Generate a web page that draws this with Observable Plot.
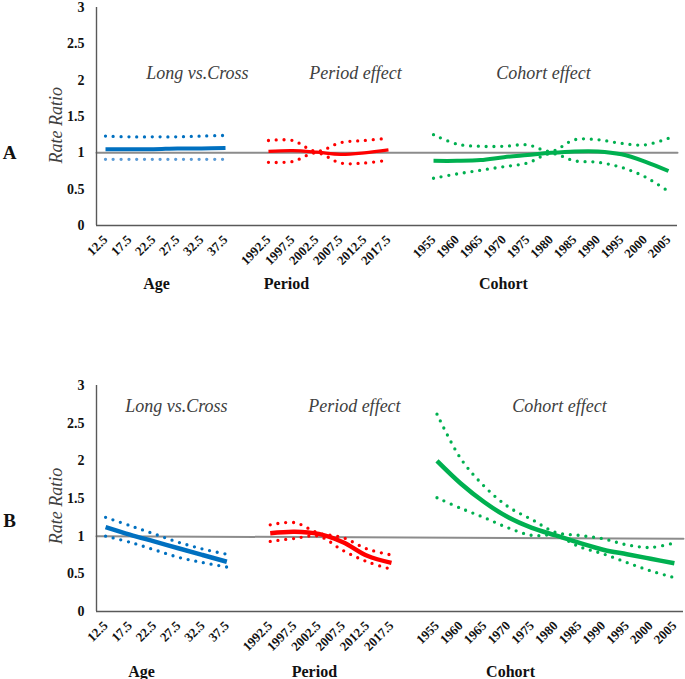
<!DOCTYPE html>
<html>
<head>
<meta charset="utf-8">
<script src="https://cdn.jsdelivr.net/npm/d3@7"></script>
<script src="https://cdn.jsdelivr.net/npm/@observablehq/plot@0.6"></script>
<style>
  body { margin: 0; background: #fff; }
  #chart { width: 685px; }
  #chart svg { display: block; }
</style>
</head>
<body>
<div id="chart"></div>
<script>
// ---- categories / tick labels ----
const ageLabels = ["12.5", "17.5", "22.5", "27.5", "32.5", "37.5"];
const periodLabels = ["1992.5", "1997.5", "2002.5", "2007.5", "2012.5", "2017.5"];
const cohortLabels = ["1955", "1960", "1965", "1970", "1975", "1980", "1985", "1990", "1995", "2000", "2005"];
const yTicks = [0, 0.5, 1, 1.5, 2, 2.5, 3];
const groupTitles = ["Long vs.Cross", "Period effect", "Cohort effect"];
const axisTitles = ["Age", "Period", "Cohort"];

// ---- Panel A values (rate ratio) ----
const ageMainA = [1.05, 1.05, 1.05, 1.06, 1.06, 1.065];
const ageUpperA = [1.23, 1.22, 1.22, 1.22, 1.23, 1.24];
const ageLowerA = [0.91, 0.91, 0.91, 0.91, 0.91, 0.91];
const periodMainA = [1.02, 1.03, 1.01, 0.98, 1.00, 1.04];
const periodUpperA = [1.17, 1.17, 1.02, 1.14, 1.17, 1.20];
const periodLowerA = [0.87, 0.88, 1.00, 0.86, 0.86, 0.90];
const cohortMainA = [0.89, 0.89, 0.90, 0.94, 0.97, 1.00, 1.02, 1.02, 0.98, 0.88, 0.75];
const cohortUpperA = [1.25, 1.12, 1.09, 1.09, 1.11, 1.02, 1.18, 1.18, 1.13, 1.11, 1.20];
const cohortLowerA = [0.65, 0.71, 0.76, 0.81, 0.86, 0.99, 0.89, 0.87, 0.80, 0.67, 0.47];
const refA = [1.0, 1.0];

// ---- Panel B values (rate ratio) ----
const ageMainB = [1.12, 1.02, 0.93, 0.84, 0.75, 0.66];
const ageUpperB = [1.25, 1.14, 1.03, 0.92, 0.83, 0.76];
const ageLowerB = [1.00, 0.92, 0.82, 0.72, 0.65, 0.59];
const periodMainB = [1.04, 1.06, 1.03, 0.92, 0.74, 0.645];
const periodUpperB = [1.15, 1.18, 1.04, 0.98, 0.83, 0.75];
const periodLowerB = [0.93, 0.97, 1.00, 0.81, 0.66, 0.56];
const cohortMainB = [2.00, 1.70, 1.45, 1.25, 1.11, 1.01, 0.91, 0.82, 0.76, 0.70, 0.64];
const cohortUpperB = [2.62, 2.03, 1.66, 1.39, 1.22, 1.05, 1.01, 0.965, 0.885, 0.85, 0.91];
const cohortLowerB = [1.51, 1.37, 1.245, 1.11, 1.01, 1.01, 0.86, 0.765, 0.65, 0.54, 0.45];
const refB = [1.0, 0.965];

// ---- layout of the category slots on one shared x axis ----
const groups = [
  { labels: ageLabels, start: 0, step: 1 },
  { labels: periodLabels, start: 6.79, step: 1 },
  { labels: cohortLabels, start: 13.667, step: 0.979 }
];
const xDomain = [-0.375, 23.833];
const slotLabel = new Map();
const allSlots = [];
groups.forEach(g => g.labels.forEach((l, i) => {
  const s = g.start + g.step * i;
  slotLabel.set(s, l);
  allSlots.push(s);
}));

const serif = "'Liberation Serif', 'Times New Roman', serif";
const blue = "#0070C0", lightBlue = "#5B9BD5", red = "#FF0000", green = "#00B050";

function rows(g, values) {
  return values.map((v, i) => ({ x: g.start + g.step * i, y: v }));
}

function panel(p) {
  const marks = [];
  // reference line at rate ratio 1
  marks.push(Plot.line(p.ref.map((v, i) => ({ x: xDomain[i], y: v })),
    { x: "x", y: "y", stroke: "#8c8c8c", strokeWidth: 2 }));
  // axis lines
  marks.push(Plot.ruleY([0], { stroke: "#595959", strokeWidth: 1.4 }));
  marks.push(Plot.ruleX([xDomain[0]], { stroke: "#595959", strokeWidth: 1.4 }));
  // series
  p.series.forEach(s => {
    const g = groups[s.group];
    const base = { x: "x", y: "y", stroke: s.color, curve: "catmull-rom" };
    if (s.kind === "main") {
      marks.push(Plot.line(rows(g, s.values), { ...base, strokeWidth: s.width || 4, strokeLinecap: "butt" }));
    } else {
      marks.push(Plot.line(rows(g, s.values), {
        ...base, strokeWidth: 3.3, strokeDasharray: "0 7.8", strokeLinecap: "round"
      }));
    }
  });
  // axes
  marks.push(Plot.axisY({
    ticks: yTicks, tickSize: 0, tickPadding: 12, label: null,
    fontSize: 14, fontWeight: "bold", fill: "#111", tickFormat: d => String(d)
  }));
  marks.push(Plot.axisX({
    ticks: allSlots, tickFormat: s => slotLabel.get(s), tickRotate: -45,
    tickSize: 0, tickPadding: 12, label: null,
    fontSize: 13, fontWeight: "bold", fill: "#111"
  }));
  // group titles
  marks.push(Plot.text(groupTitles.map((t, i) => ({ t, x: p.titleX[i], y: p.titleY })), {
    x: "x", y: "y", text: "t", fontStyle: "italic", fontSize: 18, fill: "#404040", fontFamily: serif
  }));
  // axis titles
  marks.push(Plot.text(axisTitles.map((t, i) => ({ t, x: p.axisTitleX[i], y: p.axisTitleY })), {
    x: "x", y: "y", text: "t", fontWeight: "bold", fontSize: 16, fill: "#111", fontFamily: serif
  }));
  // y label
  marks.push(Plot.text(["Rate Ratio"], {
    x: p.yLabelX, y: p.yLabelY, text: d => d, rotate: -90,
    fontStyle: "italic", fontSize: 18, fill: "#404040", fontFamily: serif
  }));
  // panel letter
  marks.push(Plot.text([p.letter], {
    x: p.letterX, y: p.letterY, text: d => d,
    fontWeight: "bold", fontSize: 19, fill: "#111", fontFamily: serif
  }));

  return Plot.plot({
    width: 685,
    height: p.height,
    marginTop: p.marginTop,
    marginBottom: p.marginBottom,
    marginLeft: 96,
    marginRight: p.marginRight,
    x: { domain: xDomain, axis: null },
    y: { domain: [0, 3], axis: null },
    style: { fontFamily: serif, background: "#fff", overflow: "visible" },
    marks
  });
}

const panelA = panel({
  letter: "A", height: 380, marginTop: 7, marginBottom: 155, marginRight: 8, ref: refA,
  series: [
    { group: 0, kind: "upper", values: ageUpperA, color: blue },
    { group: 0, kind: "lower", values: ageLowerA, color: lightBlue },
    { group: 0, kind: "main", values: ageMainA, color: blue },
    { group: 1, kind: "upper", values: periodUpperA, color: red },
    { group: 1, kind: "lower", values: periodLowerA, color: red },
    { group: 1, kind: "main", values: periodMainA, color: red, width: 3.2 },
    { group: 2, kind: "upper", values: cohortUpperA, color: green },
    { group: 2, kind: "lower", values: cohortLowerA, color: green },
    { group: 2, kind: "main", values: cohortMainA, color: green }
  ],
  titleX: [3.83, 10.42, 18.25], titleY: 2.10,
  axisTitleX: [2.125, 7.54, 16.58], axisTitleY: -0.80,
  yLabelX: -2.04, yLabelY: 1.38,
  letterX: -4.0, letterY: 1.0
});

const panelB = panel({
  letter: "B", height: 299, marginTop: 5, marginBottom: 68, marginRight: 2, ref: refB,
  series: [
    { group: 0, kind: "upper", values: ageUpperB, color: blue },
    { group: 0, kind: "lower", values: ageLowerB, color: blue },
    { group: 0, kind: "main", values: ageMainB, color: blue, width: 4.5 },
    { group: 1, kind: "upper", values: periodUpperB, color: red },
    { group: 1, kind: "lower", values: periodLowerB, color: red },
    { group: 1, kind: "main", values: periodMainB, color: red, width: 4.5 },
    { group: 2, kind: "upper", values: cohortUpperB, color: green },
    { group: 2, kind: "lower", values: cohortLowerB, color: green },
    { group: 2, kind: "main", values: cohortMainB, color: green, width: 4.5 }
  ],
  titleX: [2.92, 10.26, 18.72], titleY: 2.72,
  axisTitleX: [1.48, 8.61, 16.70], axisTitleY: -0.80,
  yLabelX: -2.02, yLabelY: 1.40,
  letterX: -3.96, letterY: 1.20
});

const chart = document.getElementById("chart");
chart.appendChild(panelA);
chart.appendChild(panelB);
</script>
</body>
</html>
